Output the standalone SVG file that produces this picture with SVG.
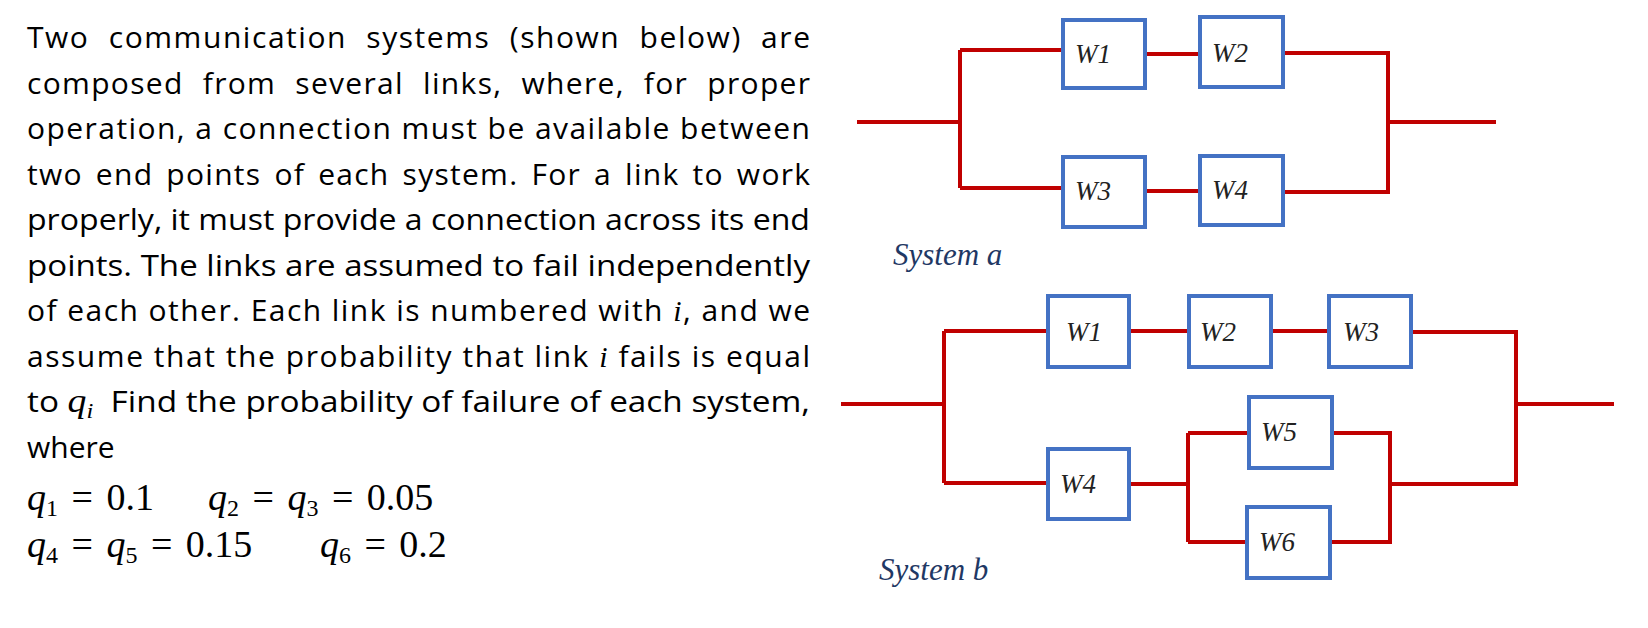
<svg xmlns="http://www.w3.org/2000/svg" width="1648" height="628" viewBox="0 0 1648 628">
<style>
.t{font-family:"Open Sans","Liberation Sans",sans-serif;font-size:30px;fill:#000}
.m{font-family:"Liberation Serif",serif;font-style:italic}
.e{font-family:"Liberation Serif",serif;font-size:38px;fill:#000;white-space:pre;word-spacing:4px}
.box{fill:#fff;stroke:#4472C4;stroke-width:4}
.lbl{font-family:"Liberation Serif",serif;font-style:italic;font-size:27px;fill:#222}
.w{fill:none;stroke:#C00000;stroke-width:4}
.sys{font-family:"Liberation Serif",serif;font-style:italic;font-size:31px;fill:#1F3864}
</style>
<g id="text">
<text class="t" x="27" y="48" textLength="783" lengthAdjust="spacing" word-spacing="10">Two communication systems (shown below) are</text>
<text class="t" x="27" y="93.5" textLength="783" lengthAdjust="spacing" word-spacing="10">composed from several links, where, for proper</text>
<text class="t" x="27" y="139" textLength="783" lengthAdjust="spacing">operation, a connection must be available between</text>
<text class="t" x="27" y="184.5" textLength="783" lengthAdjust="spacing" word-spacing="4">two end points of each system.  For a link to work</text>
<text class="t" x="27" y="230" textLength="783" lengthAdjust="spacingAndGlyphs">properly, it must provide a connection across its end</text>
<text class="t" x="27" y="275.5" textLength="783" lengthAdjust="spacingAndGlyphs">points.  The links are assumed to fail independently</text>
<text class="t" x="27" y="321" textLength="783" lengthAdjust="spacing">of each other.  Each link is numbered with <tspan class="m">i</tspan>, and we</text>
<text class="t" x="27" y="366.5" textLength="783" lengthAdjust="spacing">assume that the probability that link <tspan class="m">i</tspan> fails is equal</text>
<text class="t" x="27" y="412" textLength="783" lengthAdjust="spacingAndGlyphs">to <tspan class="m" font-size="34">q<tspan font-size="22" dy="6">i</tspan></tspan><tspan dy="-6" xml:space="preserve">  Find the probability of failure of each system,</tspan></text>
<text class="t" x="27" y="457.5">where</text>
<text class="e" x="27" y="510" xml:space="preserve"><tspan class="m">q</tspan><tspan font-size="24" dy="6">1</tspan><tspan dy="-6"> = 0.1    </tspan><tspan class="m">q</tspan><tspan font-size="24" dy="6">2</tspan><tspan dy="-6"> = </tspan><tspan class="m">q</tspan><tspan font-size="24" dy="6">3</tspan><tspan dy="-6"> = 0.05</tspan></text>
<text class="e" x="27" y="557" xml:space="preserve"><tspan class="m">q</tspan><tspan font-size="24" dy="6">4</tspan><tspan dy="-6"> = </tspan><tspan class="m">q</tspan><tspan font-size="24" dy="6">5</tspan><tspan dy="-6"> = 0.15     </tspan><tspan class="m">q</tspan><tspan font-size="24" dy="6">6</tspan><tspan dy="-6"> = 0.2</tspan></text>
</g>
<g id="connectors">
<path class="w" d="M857 122H960M960 50V188M960 50H1063M960 188H1063M1145 54H1200M1145 191H1200M1283 53H1388V192H1283M1388 122H1496"/>
<path class="w" d="M841 404H944M944 331V483M944 331H1048M944 483H1048M1129 331H1189M1271 331H1329M1411 332H1516V484H1390M1516 404H1614M1129 484H1188M1188 433V542M1188 433H1249M1188 542H1247M1332 433H1390V542H1330"/>
</g>
<g id="a-W1"><rect class="box" x="1063" y="20" width="82" height="68"/><text class="lbl" x="1075" y="63">W1</text></g>
<g id="a-W2"><rect class="box" x="1200" y="17" width="83" height="70"/><text class="lbl" x="1212" y="62">W2</text></g>
<g id="a-W3"><rect class="box" x="1063" y="157" width="82" height="70"/><text class="lbl" x="1075" y="200">W3</text></g>
<g id="a-W4"><rect class="box" x="1200" y="156" width="83" height="69"/><text class="lbl" x="1212" y="199">W4</text></g>
<text id="label-a" class="sys" x="893" y="265">System a</text>
<g id="b-W1"><rect class="box" x="1048" y="296" width="81" height="71"/><text class="lbl" x="1066" y="341">W1</text></g>
<g id="b-W2"><rect class="box" x="1189" y="296" width="82" height="71"/><text class="lbl" x="1200" y="341">W2</text></g>
<g id="b-W3"><rect class="box" x="1329" y="296" width="82" height="71"/><text class="lbl" x="1343" y="341">W3</text></g>
<g id="b-W4"><rect class="box" x="1048" y="449" width="81" height="70"/><text class="lbl" x="1060" y="493">W4</text></g>
<g id="b-W5"><rect class="box" x="1249" y="397" width="83" height="71"/><text class="lbl" x="1261" y="441">W5</text></g>
<g id="b-W6"><rect class="box" x="1247" y="507" width="83" height="71"/><text class="lbl" x="1259" y="551">W6</text></g>
<text id="label-b" class="sys" x="879" y="580">System b</text>
</svg>
